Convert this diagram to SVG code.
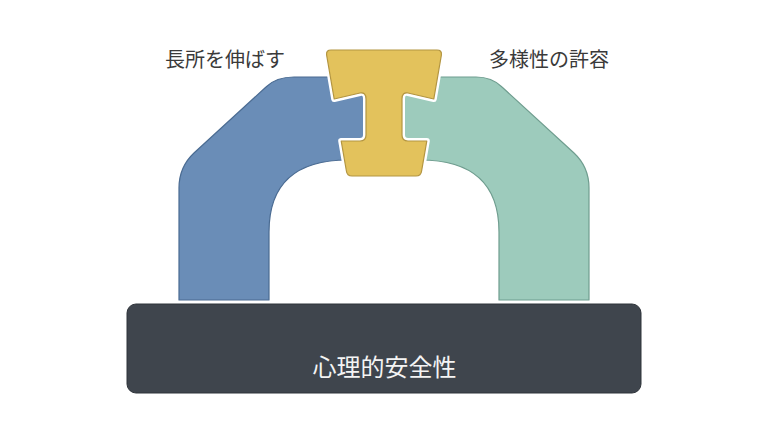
<svg xmlns="http://www.w3.org/2000/svg" width="768" height="432" viewBox="0 0 768 432">
  <style>
    .label { font-family: "Noto Sans CJK JP", "Noto Sans", sans-serif; font-size: 20px; fill: #3a3a3a; text-anchor: middle; }
    .base-label { font-family: "Noto Sans CJK JP", "Noto Sans", sans-serif; font-size: 24px; fill: #f4f4f4; text-anchor: middle; }
    .blue { fill: #6a8db7; stroke: #4a6b92; stroke-width: 1.2; stroke-linejoin: round; }
    .teal { fill: #9dcbbc; stroke: #6f9d8f; stroke-width: 1.2; stroke-linejoin: round; }
    .key-gap { fill: none; stroke: #ffffff; stroke-width: 6; stroke-linejoin: round; }
    .key { fill: #e3c25c; stroke: #b39541; stroke-width: 1.2; stroke-linejoin: round; }
    .base { fill: #3f454d; stroke: #2f343a; stroke-width: 1; }
  </style>
  <defs>
    <path id="keyShape" d="M 331 50 L 437 50 Q 442 50 441.4 55 L 433.8 99 L 408 93 Q 402 92 402 99 L 402 135 Q 402 141 408 141 L 426.8 141 L 421.6 171 Q 421 176 416 176 L 352 176 Q 347 176 346.4 171 L 341.2 141 L 360 141 Q 366 141 366 135 L 366 99 Q 366 92 360 93 L 334.2 99 L 326.6 55 Q 326 50 331 50 Z"/>
  </defs>
  <rect width="768" height="432" fill="#ffffff"/>
  <g id="connectors"></g>
  <g id="node-base">
    <rect class="base" x="127" y="304" width="514" height="89" rx="9"/>
    <text class="base-label" x="384.5" y="376">心理的安全性</text>
  </g>
  <g id="node-left">
    <path class="blue" d="M 179 300 L 179 188 Q 179 167 194 153 L 266 87 Q 276 77 294 77 L 340 77 L 340 88 L 372 88 L 372 146 L 348 146 L 348 160 Q 269 160 269 232 L 269 300 Z"/>
    <text class="label" x="225" y="67">長所を伸ばす</text>
  </g>
  <g id="node-right">
    <path class="teal" d="M 589 300 L 589 188 Q 589 167 574 153 L 502 87 Q 492 77 476 77 L 428 77 L 428 88 L 396 88 L 396 146 L 420 146 L 420 160 Q 499 160 499 232 L 499 300 Z"/>
    <text class="label" x="549" y="67">多様性の許容</text>
  </g>
  <g id="node-key">
    <use href="#keyShape" class="key-gap"/>
    <use href="#keyShape" class="key"/>
  </g>
</svg>
